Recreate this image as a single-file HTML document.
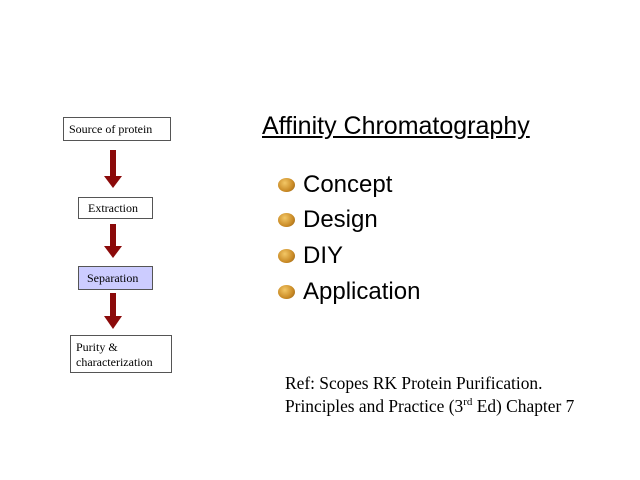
<!DOCTYPE html>
<html><head><style>
body{margin:0;width:640px;height:480px;background:#fff;position:relative;overflow:hidden}
.b{position:absolute;border:1px solid #555;font-family:"Liberation Serif",serif;font-size:12px;color:#000;box-sizing:border-box;background:#fff}
.s{position:absolute;font-family:"Liberation Sans",sans-serif;color:#000}
.bl{position:absolute;left:278px;width:17px;height:14px;border-radius:50%;background:radial-gradient(circle at 40% 35%,#f3c766,#c98a25 60%,#8a5a14)}
.r{position:absolute;left:285px;font-family:"Liberation Serif",serif;font-size:17.4px;color:#000}
</style></head><body>
<div class="b" style="left:63px;top:117px;width:108px;height:24px;padding:4px 0 0 5px">Source of protein</div>
<div class="b" style="left:78px;top:197px;width:75px;height:22px;padding:3px 0 0 9px">Extraction</div>
<div class="b" style="left:78px;top:266px;width:75px;height:24px;padding:4px 0 0 8px;background:#ccccff">Separation</div>
<div class="b" style="left:70px;top:335px;width:102px;height:38px;padding:4px 0 0 5px;line-height:15px">Purity &amp;<br>characterization</div>
<svg style="position:absolute;left:0;top:0" width="640" height="480">
<g fill="#8b0a0a">
<rect x="110" y="150" width="6" height="28"/><polygon points="104,176 122,176 113,188"/>
<rect x="110" y="224" width="6" height="24"/><polygon points="104,246 122,246 113,258"/>
<rect x="110" y="293" width="6" height="24"/><polygon points="104,316 122,316 113,329"/>
</g></svg>
<div class="s" style="left:262px;top:112px;font-size:25px;text-decoration:underline">Affinity Chromatography</div>
<div class="bl" style="top:178px"></div><div class="s" style="left:303px;top:171px;font-size:24px">Concept</div>
<div class="bl" style="top:213px"></div><div class="s" style="left:303px;top:206px;font-size:24px">Design</div>
<div class="bl" style="top:249px"></div><div class="s" style="left:303px;top:242px;font-size:24px">DIY</div>
<div class="bl" style="top:285px"></div><div class="s" style="left:303px;top:278px;font-size:24px">Application</div>
<div class="r" style="top:373px">Ref: Scopes RK Protein Purification.</div>
<div class="r" style="top:396px">Principles and Practice (3<sup style="font-size:11px">rd</sup> Ed) Chapter 7</div>
</body></html>
